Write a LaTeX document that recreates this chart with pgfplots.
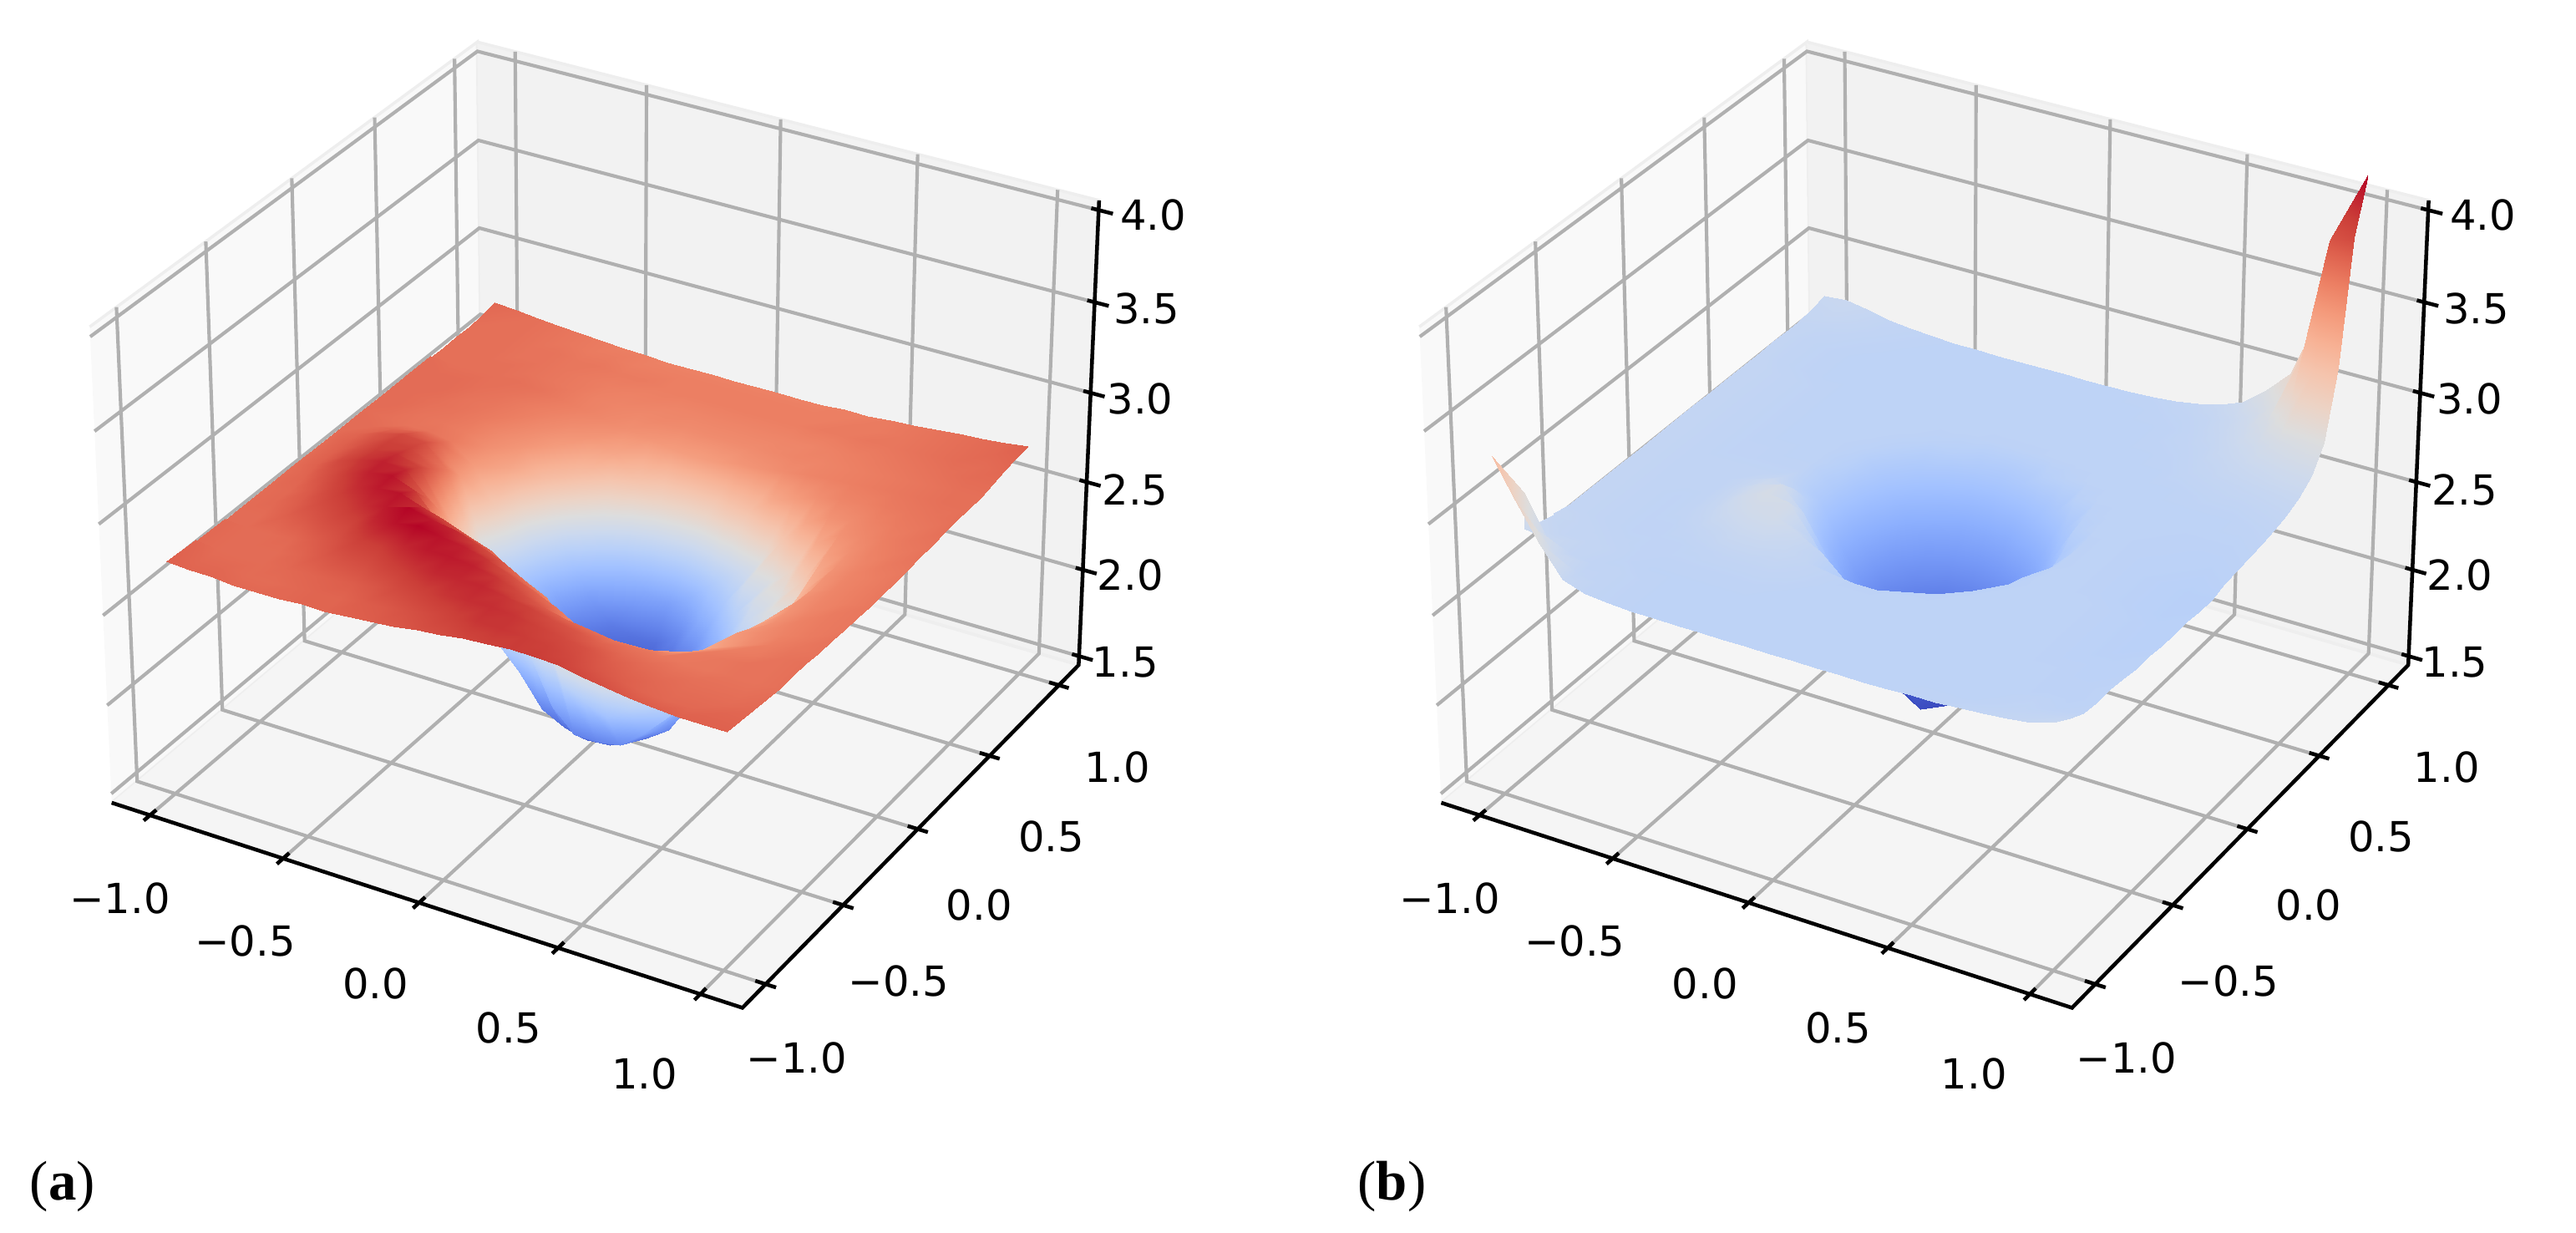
\documentclass[border=0pt]{standalone}
\usepackage{fontspec}
\setmainfont{DejaVu Sans}
\newfontfamily\capfont{Liberation Serif}
\usepackage{pgfplots}
\usepackage{pgfplotstable}
\pgfplotsset{compat=1.18}

% perspective of the 3d box (elev 30, azim -60), result in reference pixels
\newcommand\scrx[3]{(367.5+3850*(0.4318*(#1)+0.2493*(#2))/(10-0.2159*(#1)+0.37395*(#2)-0.16475*((#3)-2.75)))}
\newcommand\scry[3]{(444.5+3850*(-0.12465*(#1)+0.2159*(#2)+0.28535*((#3)-2.75))/(10-0.2159*(#1)+0.37395*(#2)-0.16475*((#3)-2.75)))}
\newcommand\gx{(-1+mod(\coordindex,25)/12)}
\newcommand\gy{(1-floor(\coordindex/25)/12)}
\pgfplotsset{
  table/proj/.style={x expr={\scrx{\thisrow{x}}{\thisrow{y}}{\thisrow{z}}},y expr={\scry{\thisrow{x}}{\thisrow{y}}{\thisrow{z}}}},
  table/mygrid/.style={x index=0,y index=0,x expr={\scrx{\gx}{\gy}{\thisrow{z}}},y expr={\scry{\gx}{\gy}{\thisrow{z}}}},
  colormap={coolwarm}{rgb255=(59,76,192) rgb255=(77,104,215) rgb255=(98,130,234) rgb255=(119,154,247) rgb255=(141,176,254) rgb255=(163,194,255) rgb255=(184,208,249) rgb255=(204,217,238) rgb255=(221,221,221) rgb255=(236,211,197) rgb255=(245,196,173) rgb255=(247,177,148) rgb255=(244,154,123) rgb255=(236,127,99) rgb255=(222,96,77) rgb255=(203,62,56) rgb255=(180,4,38)},
}
\definecolor{paneL}{HTML}{F9F9F9}
\definecolor{paneB}{HTML}{F2F2F2}
\definecolor{paneF}{HTML}{F5F5F5}
\definecolor{paneE}{HTML}{EEEEEE}
\definecolor{gridc}{HTML}{B0B0B0}

\pgfplotstableread{
x y z
-1.146 -1.146 1.448
-1.146 1.146 1.448
-1.146 1.146 4.052
-1.146 -1.146 4.052
}\paneleft
\pgfplotstableread{
x y z
-1.146 1.146 1.448
1.146 1.146 1.448
1.146 1.146 4.052
-1.146 1.146 4.052
}\paneback
\pgfplotstableread{
x y z
-1.146 -1.146 1.448
1.146 -1.146 1.448
1.146 1.146 1.448
-1.146 1.146 1.448
}\panefloor
\pgfplotstableread{
x y z
-1 -1.146 1.448
-1 1.146 1.448
-1 1.146 4.052
nan nan nan
-0.5 -1.146 1.448
-0.5 1.146 1.448
-0.5 1.146 4.052
nan nan nan
0 -1.146 1.448
0 1.146 1.448
0 1.146 4.052
nan nan nan
0.5 -1.146 1.448
0.5 1.146 1.448
0.5 1.146 4.052
nan nan nan
1 -1.146 1.448
1 1.146 1.448
1 1.146 4.052
nan nan nan
1.146 -1 1.448
-1.146 -1 1.448
-1.146 -1 4.052
nan nan nan
1.146 -0.5 1.448
-1.146 -0.5 1.448
-1.146 -0.5 4.052
nan nan nan
1.146 0 1.448
-1.146 0 1.448
-1.146 0 4.052
nan nan nan
1.146 0.5 1.448
-1.146 0.5 1.448
-1.146 0.5 4.052
nan nan nan
1.146 1 1.448
-1.146 1 1.448
-1.146 1 4.052
nan nan nan
-1.146 -1.146 1.5
-1.146 1.146 1.5
1.146 1.146 1.5
nan nan nan
-1.146 -1.146 2
-1.146 1.146 2
1.146 1.146 2
nan nan nan
-1.146 -1.146 2.5
-1.146 1.146 2.5
1.146 1.146 2.5
nan nan nan
-1.146 -1.146 3
-1.146 1.146 3
1.146 1.146 3
nan nan nan
-1.146 -1.146 3.5
-1.146 1.146 3.5
1.146 1.146 3.5
nan nan nan
-1.146 -1.146 4
-1.146 1.146 4
1.146 1.146 4
}\gridlines
\pgfplotstableread{
x y z
-1.146 -1.146 1.448
1.146 -1.146 1.448
1.146 1.146 1.448
1.146 1.146 4.052
nan nan nan
-1 -1.182 1.448
-1 -1.110 1.448
nan nan nan
-0.5 -1.182 1.448
-0.5 -1.110 1.448
nan nan nan
0 -1.182 1.448
0 -1.110 1.448
nan nan nan
0.5 -1.182 1.448
0.5 -1.110 1.448
nan nan nan
1 -1.182 1.448
1 -1.110 1.448
nan nan nan
1.182 -1 1.448
1.110 -1 1.448
nan nan nan
1.182 -0.5 1.448
1.110 -0.5 1.448
nan nan nan
1.182 0 1.448
1.110 0 1.448
nan nan nan
1.182 0.5 1.448
1.110 0.5 1.448
nan nan nan
1.182 1 1.448
1.110 1 1.448
nan nan nan
1.12 1.146 1.5
1.196 1.146 1.5
nan nan nan
1.12 1.146 2
1.196 1.146 2
nan nan nan
1.12 1.146 2.5
1.196 1.146 2.5
nan nan nan
1.12 1.146 3
1.196 1.146 3
nan nan nan
1.12 1.146 3.5
1.196 1.146 3.5
nan nan nan
1.12 1.146 4
1.196 1.146 4
}\axislines
\pgfplotstableread{
px py lab
73 546.9 −1.0
149.2 572.5 −0.5
228.6 598.6 0.0
309.6 625.7 0.5
392.3 653.7 1.0
485 644 −1.0
547 597 −0.5
596 551 0.0
640 509 0.5
680 467 1.0
702 131 4.0
698 188 3.5
694 243 3.0
691 298 2.5
688 350 2.0
685 403 1.5
}\ticktexts

\pgfplotstableread[row sep=\\]{z\\
2.73\\2.72\\2.71\\2.70\\2.69\\2.68\\2.67\\2.67\\2.66\\2.66\\2.66\\2.66\\2.66\\2.66\\2.66\\2.66\\2.67\\2.67\\2.68\\2.69\\2.70\\2.71\\2.72\\2.73\\2.75\\
2.72\\2.71\\2.71\\2.70\\2.69\\2.68\\2.68\\2.67\\2.67\\2.67\\2.67\\2.67\\2.67\\2.67\\2.67\\2.67\\2.67\\2.68\\2.68\\2.69\\2.70\\2.71\\2.72\\2.73\\2.74\\
2.71\\2.71\\2.71\\2.70\\2.70\\2.69\\2.69\\2.68\\2.68\\2.67\\2.67\\2.67\\2.67\\2.67\\2.67\\2.67\\2.68\\2.68\\2.69\\2.69\\2.70\\2.71\\2.72\\2.72\\2.73\\
2.71\\2.71\\2.71\\2.70\\2.70\\2.69\\2.68\\2.67\\2.66\\2.66\\2.65\\2.65\\2.65\\2.65\\2.65\\2.65\\2.65\\2.66\\2.67\\2.68\\2.69\\2.70\\2.71\\2.72\\2.72\\
2.71\\2.71\\2.71\\2.71\\2.70\\2.69\\2.68\\2.66\\2.65\\2.64\\2.64\\2.63\\2.63\\2.63\\2.63\\2.64\\2.65\\2.65\\2.66\\2.67\\2.68\\2.69\\2.70\\2.71\\2.71\\
2.71\\2.71\\2.71\\2.71\\2.71\\2.70\\2.68\\2.66\\2.64\\2.62\\2.60\\2.58\\2.57\\2.58\\2.60\\2.61\\2.63\\2.65\\2.66\\2.67\\2.68\\2.69\\2.70\\2.71\\2.71\\
2.72\\2.72\\2.72\\2.71\\2.70\\2.68\\2.66\\2.63\\2.60\\2.54\\2.42\\2.31\\2.28\\2.30\\2.38\\2.43\\2.53\\2.58\\2.62\\2.65\\2.66\\2.68\\2.69\\2.70\\2.71\\
2.72\\2.72\\2.72\\2.70\\2.69\\2.67\\2.63\\2.58\\2.45\\2.19\\1.98\\1.89\\1.85\\1.93\\2.05\\2.15\\2.23\\2.40\\2.54\\2.61\\2.63\\2.66\\2.68\\2.69\\2.71\\
2.72\\2.72\\2.71\\2.70\\2.68\\2.64\\2.60\\2.45\\2.09\\1.85\\1.73\\1.70\\1.69\\1.77\\1.91\\2.03\\2.19\\2.23\\2.33\\2.53\\2.61\\2.64\\2.67\\2.69\\2.70\\
2.72\\2.72\\2.70\\2.69\\2.67\\2.62\\2.54\\2.19\\1.90\\1.74\\1.66\\1.64\\1.63\\1.66\\1.75\\1.92\\2.07\\2.21\\2.25\\2.38\\2.57\\2.62\\2.66\\2.68\\2.70\\
2.72\\2.71\\2.70\\2.70\\2.68\\2.58\\2.38\\2.06\\1.90\\1.72\\1.63\\1.61\\1.60\\1.62\\1.67\\1.80\\1.97\\2.14\\2.23\\2.25\\2.52\\2.61\\2.65\\2.68\\2.69\\
2.72\\2.72\\2.74\\2.76\\2.74\\2.58\\2.22\\2.08\\1.92\\1.73\\1.63\\1.60\\1.58\\1.60\\1.63\\1.71\\1.89\\2.05\\2.20\\2.25\\2.48\\2.61\\2.65\\2.67\\2.69\\
2.72\\2.74\\2.78\\2.81\\2.80\\2.68\\2.35\\2.13\\1.96\\1.76\\1.65\\1.60\\1.58\\1.58\\1.61\\1.66\\1.78\\1.96\\2.13\\2.23\\2.45\\2.60\\2.65\\2.67\\2.69\\
2.72\\2.75\\2.79\\2.83\\2.83\\2.75\\2.45\\2.20\\2.02\\1.85\\1.70\\1.62\\1.58\\1.58\\1.59\\1.65\\1.78\\1.98\\2.14\\2.23\\2.48\\2.61\\2.65\\2.67\\2.69\\
2.72\\2.75\\2.80\\2.84\\2.86\\2.82\\2.60\\2.28\\2.12\\1.96\\1.78\\1.67\\1.62\\1.61\\1.62\\1.67\\1.76\\1.96\\2.13\\2.23\\2.52\\2.61\\2.65\\2.68\\2.69\\
2.72\\2.75\\2.81\\2.85\\2.88\\2.87\\2.74\\2.40\\2.20\\2.05\\1.92\\1.75\\1.68\\1.65\\1.66\\1.72\\1.82\\1.99\\2.16\\2.32\\2.55\\2.62\\2.66\\2.68\\2.69\\
2.72\\2.74\\2.79\\2.84\\2.88\\2.90\\2.85\\2.72\\2.57\\2.43\\2.34\\2.14\\1.88\\1.75\\1.75\\1.77\\1.87\\2.00\\2.22\\2.46\\2.59\\2.63\\2.66\\2.68\\2.70\\
2.72\\2.73\\2.77\\2.82\\2.86\\2.89\\2.90\\2.86\\2.82\\2.77\\2.73\\2.64\\2.45\\2.12\\2.05\\2.00\\2.08\\2.25\\2.42\\2.52\\2.58\\2.63\\2.67\\2.69\\2.70\\
2.72\\2.73\\2.76\\2.80\\2.83\\2.86\\2.89\\2.92\\2.89\\2.87\\2.83\\2.78\\2.71\\2.65\\2.50\\2.44\\2.45\\2.48\\2.52\\2.58\\2.63\\2.67\\2.68\\2.70\\2.71\\
2.72\\2.72\\2.75\\2.77\\2.80\\2.82\\2.87\\2.90\\2.92\\2.90\\2.88\\2.85\\2.80\\2.75\\2.70\\2.62\\2.60\\2.60\\2.62\\2.64\\2.68\\2.69\\2.70\\2.70\\2.71\\
2.72\\2.72\\2.72\\2.73\\2.76\\2.79\\2.83\\2.84\\2.87\\2.89\\2.89\\2.88\\2.85\\2.81\\2.77\\2.74\\2.72\\2.70\\2.70\\2.69\\2.69\\2.69\\2.70\\2.70\\2.71\\
2.73\\2.72\\2.72\\2.72\\2.74\\2.77\\2.79\\2.80\\2.83\\2.85\\2.87\\2.87\\2.87\\2.85\\2.83\\2.80\\2.78\\2.75\\2.73\\2.72\\2.71\\2.71\\2.71\\2.71\\2.72\\
2.73\\2.72\\2.72\\2.72\\2.73\\2.74\\2.75\\2.76\\2.78\\2.81\\2.83\\2.85\\2.86\\2.86\\2.85\\2.83\\2.81\\2.79\\2.76\\2.74\\2.73\\2.72\\2.72\\2.72\\2.73\\
2.74\\2.73\\2.73\\2.72\\2.72\\2.73\\2.74\\2.74\\2.76\\2.77\\2.79\\2.81\\2.83\\2.85\\2.85\\2.84\\2.83\\2.81\\2.78\\2.76\\2.74\\2.73\\2.73\\2.74\\2.74\\
2.75\\2.74\\2.74\\2.73\\2.73\\2.73\\2.74\\2.74\\2.75\\2.76\\2.77\\2.79\\2.80\\2.82\\2.83\\2.84\\2.84\\2.83\\2.81\\2.79\\2.77\\2.76\\2.75\\2.75\\2.75\\
}\surfa

\pgfplotstableread[row sep=\\]{z\\
2.77\\2.78\\2.76\\2.73\\2.72\\2.71\\2.70\\2.70\\2.70\\2.70\\2.70\\2.70\\2.70\\2.70\\2.70\\2.71\\2.72\\2.74\\2.77\\2.82\\2.92\\3.05\\3.35\\3.95\\4.23\\
2.75\\2.76\\2.74\\2.72\\2.71\\2.70\\2.70\\2.70\\2.70\\2.70\\2.70\\2.70\\2.70\\2.70\\2.70\\2.70\\2.71\\2.72\\2.74\\2.78\\2.84\\2.95\\3.25\\3.90\\3.95\\
2.74\\2.73\\2.72\\2.71\\2.70\\2.70\\2.70\\2.70\\2.70\\2.70\\2.70\\2.70\\2.70\\2.70\\2.70\\2.70\\2.70\\2.71\\2.73\\2.76\\2.81\\2.88\\3.02\\3.25\\3.30\\
2.74\\2.72\\2.71\\2.70\\2.70\\2.70\\2.70\\2.70\\2.70\\2.70\\2.70\\2.70\\2.70\\2.70\\2.70\\2.70\\2.70\\2.71\\2.72\\2.74\\2.78\\2.82\\2.88\\2.92\\2.95\\
2.74\\2.72\\2.71\\2.70\\2.70\\2.70\\2.70\\2.70\\2.70\\2.70\\2.70\\2.70\\2.70\\2.70\\2.70\\2.70\\2.70\\2.70\\2.71\\2.73\\2.75\\2.78\\2.80\\2.82\\2.83\\
2.74\\2.72\\2.71\\2.70\\2.70\\2.70\\2.70\\2.70\\2.70\\2.70\\2.70\\2.70\\2.70\\2.70\\2.70\\2.70\\2.70\\2.70\\2.70\\2.72\\2.73\\2.74\\2.75\\2.76\\2.77\\
2.74\\2.73\\2.72\\2.71\\2.70\\2.70\\2.70\\2.70\\2.70\\2.70\\2.70\\2.69\\2.69\\2.69\\2.70\\2.70\\2.70\\2.70\\2.70\\2.70\\2.71\\2.72\\2.72\\2.73\\2.74\\
2.74\\2.73\\2.72\\2.71\\2.70\\2.70\\2.70\\2.70\\2.70\\2.68\\2.65\\2.58\\2.55\\2.58\\2.65\\2.68\\2.70\\2.70\\2.70\\2.70\\2.70\\2.70\\2.70\\2.71\\2.72\\
2.74\\2.73\\2.72\\2.71\\2.70\\2.70\\2.70\\2.70\\2.67\\2.55\\2.44\\2.34\\2.32\\2.34\\2.44\\2.55\\2.67\\2.70\\2.70\\2.70\\2.70\\2.70\\2.70\\2.70\\2.71\\
2.74\\2.73\\2.72\\2.71\\2.70\\2.70\\2.70\\2.68\\2.55\\2.37\\2.24\\2.16\\2.13\\2.16\\2.24\\2.37\\2.55\\2.68\\2.70\\2.70\\2.70\\2.69\\2.69\\2.69\\2.70\\
2.74\\2.73\\2.72\\2.71\\2.70\\2.70\\2.70\\2.65\\2.44\\2.24\\2.10\\1.92\\1.85\\1.92\\2.10\\2.24\\2.44\\2.65\\2.70\\2.70\\2.69\\2.69\\2.68\\2.68\\2.69\\
2.74\\2.73\\2.72\\2.71\\2.71\\2.70\\2.70\\2.59\\2.36\\2.17\\1.93\\1.72\\1.65\\1.72\\1.92\\2.16\\2.34\\2.58\\2.69\\2.70\\2.69\\2.68\\2.68\\2.67\\2.68\\
2.74\\2.73\\2.72\\2.71\\2.71\\2.71\\2.71\\2.58\\2.34\\2.15\\1.86\\1.65\\1.60\\1.65\\1.85\\2.13\\2.32\\2.55\\2.69\\2.70\\2.69\\2.68\\2.67\\2.66\\2.66\\
2.74\\2.73\\2.72\\2.72\\2.72\\2.72\\2.74\\2.65\\2.41\\2.22\\1.95\\1.73\\1.65\\1.72\\1.92\\2.16\\2.34\\2.58\\2.69\\2.70\\2.69\\2.68\\2.67\\2.66\\2.66\\
2.74\\2.73\\2.72\\2.72\\2.72\\2.75\\2.79\\2.77\\2.53\\2.33\\2.14\\1.94\\1.86\\1.92\\2.10\\2.24\\2.44\\2.65\\2.70\\2.70\\2.69\\2.68\\2.67\\2.66\\2.67\\
2.74\\2.73\\2.72\\2.72\\2.72\\2.76\\2.82\\2.86\\2.74\\2.48\\2.30\\2.19\\2.14\\2.16\\2.24\\2.37\\2.55\\2.68\\2.70\\2.70\\2.70\\2.69\\2.68\\2.67\\2.67\\
2.74\\2.73\\2.72\\2.71\\2.72\\2.76\\2.83\\2.88\\2.86\\2.70\\2.49\\2.38\\2.33\\2.34\\2.44\\2.55\\2.67\\2.70\\2.70\\2.70\\2.70\\2.69\\2.68\\2.67\\2.67\\
2.74\\2.73\\2.72\\2.71\\2.72\\2.75\\2.80\\2.84\\2.85\\2.79\\2.72\\2.61\\2.56\\2.58\\2.65\\2.68\\2.70\\2.70\\2.70\\2.70\\2.70\\2.69\\2.68\\2.67\\2.68\\
2.74\\2.73\\2.72\\2.71\\2.71\\2.73\\2.75\\2.78\\2.78\\2.76\\2.73\\2.71\\2.69\\2.69\\2.70\\2.70\\2.70\\2.70\\2.70\\2.70\\2.70\\2.69\\2.68\\2.68\\2.68\\
2.74\\2.73\\2.72\\2.71\\2.71\\2.71\\2.72\\2.73\\2.73\\2.73\\2.72\\2.70\\2.70\\2.70\\2.70\\2.70\\2.70\\2.70\\2.70\\2.70\\2.70\\2.69\\2.69\\2.68\\2.69\\
2.76\\2.74\\2.73\\2.72\\2.71\\2.71\\2.71\\2.71\\2.71\\2.71\\2.70\\2.70\\2.70\\2.70\\2.70\\2.70\\2.70\\2.70\\2.70\\2.70\\2.70\\2.70\\2.69\\2.69\\2.70\\
2.75\\2.74\\2.74\\2.73\\2.71\\2.70\\2.70\\2.70\\2.70\\2.70\\2.70\\2.70\\2.70\\2.70\\2.70\\2.70\\2.70\\2.70\\2.70\\2.70\\2.70\\2.70\\2.69\\2.69\\2.70\\
2.80\\2.78\\2.74\\2.72\\2.72\\2.71\\2.70\\2.70\\2.70\\2.70\\2.70\\2.70\\2.70\\2.70\\2.70\\2.70\\2.70\\2.70\\2.70\\2.70\\2.70\\2.70\\2.71\\2.70\\2.71\\
3.00\\2.92\\2.80\\2.73\\2.72\\2.71\\2.70\\2.70\\2.70\\2.70\\2.70\\2.70\\2.70\\2.70\\2.70\\2.70\\2.70\\2.70\\2.70\\2.70\\2.70\\2.71\\2.72\\2.73\\2.75\\
3.32\\3.12\\2.92\\2.76\\2.72\\2.71\\2.70\\2.70\\2.70\\2.70\\2.70\\2.70\\2.70\\2.70\\2.70\\2.70\\2.70\\2.70\\2.71\\2.71\\2.72\\2.73\\2.74\\2.76\\2.80\\
}\surfb

% one panel: shift, width in pixels, surface table, colour limits, letter
\newcommand\panel[6]{%
\begin{axis}[at={(#1pt,0pt)},anchor=south west,scale only axis,width=#2*0.5pt,height=375.2pt,
  xmin=0,xmax=#2,ymin=0,ymax=750.4,hide axis,clip=false,unbounded coords=jump,
  colormap name=coolwarm,
  every node near coord/.append style={anchor=center,font=\fontsize{12.6}{15}\selectfont,inner sep=0pt,color=black}]
\addplot[fill=paneL,draw=paneE,line width=0.9pt] table[proj] {\paneleft};
\addplot[fill=paneB,draw=paneE,line width=0.9pt] table[proj] {\paneback};
\addplot[fill=paneF,draw=paneE,line width=0.9pt] table[proj] {\panefloor};
\addplot[gridc,line width=1.05pt] table[proj] {\gridlines};
\addplot[black,line width=1.15pt] table[proj] {\axislines};
\addplot[surf,shader=interp,mesh/cols=25,point meta=\thisrow{z},point meta min=#4,point meta max=#5] table[mygrid] {#3};
\addplot[draw=none,mark=none,nodes near coords,point meta=explicit symbolic] table[x=px,y expr=750.4-\thisrow{py},meta=lab] {\ticktexts};
\node[font=\capfont\fontsize{17}{19}\selectfont] at (axis cs:38,28.4) {(\textbf{#6})};
\end{axis}}

\begin{document}
\begin{tikzpicture}
\path (0,0) rectangle (784pt,375.2pt);
\panel{0}{809.3}{\surfa}{1.58}{2.92}{a}
\panel{404.65}{758.7}{\surfb}{1.755}{4.15}{b}
\end{tikzpicture}
\end{document}
